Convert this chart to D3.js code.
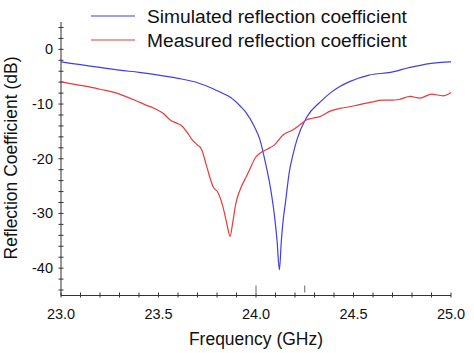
<!DOCTYPE html>
<html>
<head>
<meta charset="utf-8">
<script src="https://cdn.jsdelivr.net/npm/d3@7"></script>
<style>
  body { margin: 0; background: #fff; }
  text { font-family: "Liberation Sans", Arial, sans-serif; fill: #111; }
</style>
</head>
<body>
<script>
// frequency (GHz) / reflection coefficient (dB)
var simFreq = [23.0, 23.1, 23.2, 23.3, 23.4, 23.5, 23.6, 23.7, 23.78, 23.82, 23.87, 23.92, 23.95, 23.99,
               24.02, 24.05, 24.075, 24.095, 24.108, 24.12, 24.13, 24.14, 24.15, 24.17, 24.19, 24.21,
               24.26, 24.33, 24.38, 24.43, 24.48, 24.58, 24.69, 24.79, 24.89, 25.0];
var simDb   = [-2.3, -2.8, -3.3, -3.8, -4.2, -4.7, -5.3, -6.1, -7.2, -7.9, -8.8, -10.4, -11.6, -14.0,
               -16.5, -21.0, -25.5, -30.5, -35.0, -40.3, -35.0, -31.0, -28.3, -22.6, -19.2, -16.5,
               -12.4, -9.6, -8.0, -6.8, -5.9, -4.7, -4.2, -3.3, -2.6, -2.3];

var measFreq = [23.0, 23.07, 23.14, 23.2, 23.277, 23.33, 23.38, 23.43, 23.48, 23.52, 23.56, 23.6, 23.62,
                23.653, 23.67, 23.7, 23.72, 23.747, 23.78, 23.807, 23.83, 23.85, 23.867, 23.88, 23.897,
                23.918, 23.95, 23.97, 23.995, 24.02, 24.06, 24.09, 24.14, 24.19, 24.225, 24.258, 24.29,
                24.328, 24.38, 24.43, 24.48, 24.53, 24.585, 24.65, 24.7, 24.74, 24.79, 24.84, 24.9, 24.96, 25.0];
var measDb   = [-5.9, -6.4, -6.8, -7.3, -7.9, -8.6, -9.3, -10.1, -10.8, -11.6, -12.9, -13.6, -14.0,
                -15.5, -16.4, -17.5, -18.2, -21.4, -25.1, -26.3, -28.7, -31.8, -34.2, -31.8, -28.1,
                -25.7, -23.3, -21.8, -19.9, -19.0, -18.2, -17.6, -15.6, -14.7, -13.8, -12.9, -12.6,
                -12.3, -11.3, -10.8, -10.5, -10.1, -9.7, -9.3, -9.3, -9.1, -8.6, -8.9, -8.2, -8.5, -7.9];

var markerFreq = [24.0, 24.25];   // the two small marks near the bottom axis

var xTicks = [23.0, 23.5, 24.0, 24.5, 25.0];
var yTicks = [0, -10, -20, -30, -40];

var legendNames = ["Simulated reflection coefficient", "Measured reflection coefficient"];
var colors = ["#4040e0", "#e83a3a"];

var W = 474, H = 353;
// note: "top" is taken by window.top, so plot edges get their own names
var pLeft = 61, pRight = 451, pTop = 22, pBottom = 295.5;

var x = d3.scaleLinear().domain([23, 25]).range([pLeft, pRight]);
var y = d3.scaleLinear().domain([-45, 5]).range([pBottom, pTop]);

var svg = d3.select("body").append("svg")
    .attr("width", W)
    .attr("height", H);

// axes
var axisColor = "#333";
svg.append("line").attr("x1", pLeft).attr("x2", pLeft).attr("y1", pTop).attr("y2", pBottom)
    .attr("stroke", axisColor);
svg.append("line").attr("x1", pLeft).attr("x2", pRight).attr("y1", pBottom).attr("y2", pBottom)
    .attr("stroke", axisColor);

// ticks every 2 dB and every 0.1 GHz
svg.selectAll(".ytk").data(d3.range(-44, 5, 2)).enter().append("line")
    .attr("x1", pLeft - 2.5).attr("x2", pLeft + 2.5)
    .attr("y1", function(d) { return y(d); }).attr("y2", function(d) { return y(d); })
    .attr("stroke", axisColor);
svg.selectAll(".xtk").data(d3.range(0, 21)).enter().append("line")
    .attr("x1", function(d) { return x(23 + d / 10); }).attr("x2", function(d) { return x(23 + d / 10); })
    .attr("y1", pBottom - 3).attr("y2", pBottom + 2)
    .attr("stroke", axisColor);

// tick labels
svg.selectAll(".ylab").data(yTicks).enter().append("text")
    .attr("x", pLeft - 8).attr("y", function(d) { return y(d) + 5; })
    .attr("text-anchor", "end").attr("font-size", 14.5)
    .text(function(d) { return d; });
svg.selectAll(".xlab").data(xTicks).enter().append("text")
    .attr("x", function(d) { return x(d); }).attr("y", 319)
    .attr("text-anchor", "middle").attr("font-size", 14.5)
    .text(function(d) { return d.toFixed(1); });

// axis titles
svg.append("text").attr("x", (pLeft + pRight) / 2).attr("y", 345)
    .attr("text-anchor", "middle").attr("font-size", 17.5)
    .text("Frequency (GHz)");
svg.append("text")
    .attr("transform", "translate(17," + 158 + ") rotate(-90)")
    .attr("text-anchor", "middle").attr("font-size", 17.5)
    .text("Reflection Coefficient (dB)");

// small markers
svg.selectAll(".mk").data(markerFreq).enter().append("line")
    .attr("x1", function(d) { return x(d); }).attr("x2", function(d) { return x(d); })
    .attr("y1", pBottom - 10).attr("y2", pBottom - 3)
    .attr("stroke", "#666");

// curves
var line = d3.line()
    .x(function(d) { return x(d[0]); })
    .y(function(d) { return y(d[1]); })
    .curve(d3.curveMonotoneX);

var series = [d3.zip(simFreq, simDb), d3.zip(measFreq, measDb)];
svg.selectAll(".curve").data(series).enter().append("path")
    .attr("d", line)
    .attr("fill", "none")
    .attr("stroke", function(d, i) { return colors[i]; })
    .attr("stroke-width", 1.2);

// legend
var lg = svg.selectAll(".lg").data(legendNames).enter().append("g")
    .attr("transform", function(d, i) { return "translate(91," + (16 + i * 24) + ")"; });
lg.append("line").attr("x1", 0).attr("x2", 44).attr("y1", 0).attr("y2", 0)
    .attr("stroke", function(d, i) { return colors[i]; }).attr("stroke-width", 1.2);
lg.append("text").attr("x", 56).attr("y", 7).attr("font-size", 19.2)
    .text(function(d) { return d; });
</script>
</body>
</html>
